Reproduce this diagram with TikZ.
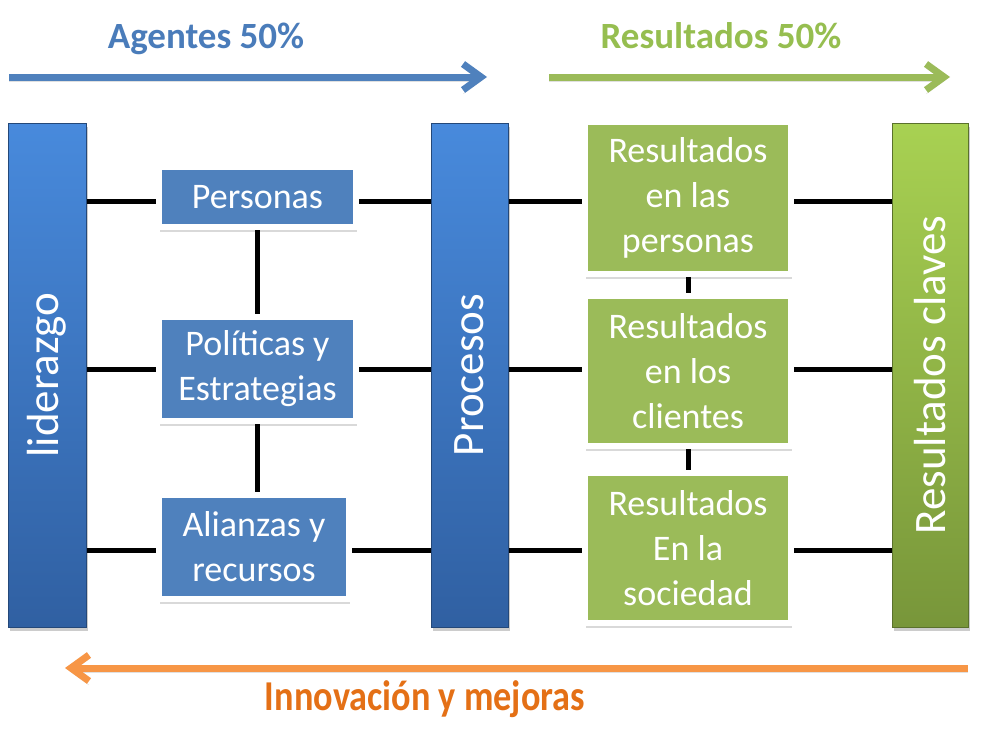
\documentclass[tikz,border=0pt]{standalone}
\usepackage{fontspec}
\setmainfont{Carlito}
\usetikzlibrary{arrows.meta,shadows,backgrounds}
\definecolor{boxblue}{RGB}{79,129,189}
\definecolor{boxgreen}{RGB}{155,187,89}
\definecolor{bartopblue}{RGB}{72,138,220}
\definecolor{barbotblue}{RGB}{48,96,162}
\definecolor{bartopgreen}{RGB}{168,209,82}
\definecolor{barbotgreen}{RGB}{120,150,58}
\definecolor{arrblue}{RGB}{79,129,189}
\definecolor{arrgreen}{RGB}{155,187,89}
\definecolor{arrorange}{RGB}{247,150,70}
\definecolor{titleblue}{RGB}{74,124,186}
\definecolor{titlegreen}{RGB}{150,190,80}
\definecolor{titleorange}{RGB}{228,112,22}
\begin{document}
\begin{tikzpicture}[x=1pt,y=-1pt,
  barnode/.style={rotate=90, inner sep=0pt, text=white,
    font=\fontsize{45}{54}\selectfont, minimum width=504pt,
    draw=#1!75!black, line width=0.8pt,
    drop shadow={opacity=0.2, fill=black, shadow xshift=2pt, shadow yshift=-4pt}},
  bluebar/.style={barnode=barbotblue, top color=bartopblue, bottom color=barbotblue},
  greenbar/.style={barnode=barbotgreen, top color=bartopgreen, bottom color=barbotgreen},
  boxnode/.style={draw=white, line width=6pt, text=white, align=center, inner sep=0pt,
    font=\fontsize{36}{45}\selectfont,
    drop shadow={opacity=0.15, fill=black, shadow xshift=1pt, shadow yshift=-5pt}},
  bluebox/.style={boxnode, fill=boxblue},
  greenbox/.style={boxnode, fill=boxgreen},
  conn/.style={draw=black, line width=5pt},
  bigarrow/.style={line width=7pt, -{Straight Barb[length=18pt,width=26pt]},
    preaction={draw=black, opacity=0.12, transform canvas={yshift=-4pt}}},
  titletext/.style={font=\fontsize{37}{44}\selectfont\bfseries, inner sep=0pt}
]
\useasboundingbox (0,0) rectangle (984,744);

% bars
\node[bluebar, minimum height=78pt] (lid) at (47,375) {liderazgo};
\node[bluebar, minimum height=77pt] (pro) at (469.5,375) {Procesos};
\node[greenbar, minimum height=76pt] (rc) at (930,375) {Resultados claves};

% boxes
\node[bluebox, minimum width=197pt, minimum height=60pt] (per) at (257.5,197) {Personas};
\node[bluebox, minimum width=197pt, minimum height=104pt] (pol) at (257.5,369) {Políticas y\\Estrategias};
\node[bluebox, minimum width=190pt, minimum height=104pt] (ali) at (254,547) {Alianzas y\\recursos};
\node[greenbox, minimum width=206pt, minimum height=152pt] (g1) at (688,198) {Resultados\\en las\\personas};
\node[greenbox, minimum width=206pt, minimum height=150pt] (g2) at (688,371) {Resultados\\en los\\clientes};
\node[greenbox, minimum width=206pt, minimum height=150pt] (g3) at (688,548) {Resultados\\En la\\sociedad};

% connectors
\coordinate (r1) at (0,201);
\coordinate (r2) at (0,369);
\coordinate (r3) at (0,550);
\begin{pgfonlayer}{background}
\fill[white] (0,0) rectangle (984,744);
\draw[conn] (lid.south |- r1) -- (rc.north |- r1);
\draw[conn] (lid.south |- r2) -- (rc.north |- r2);
\draw[conn] (lid.south |- r3) -- (rc.north |- r3);
\draw[conn] (per.south) -- (pol.north);
\draw[conn] (pol.south) -- (pol.south |- ali.north);
\draw[conn] (g1.south) -- (g2.north);
\draw[conn] (g2.south) -- (g3.north);
\end{pgfonlayer}

% arrows
\coordinate (ab1) at (9,77);
\coordinate (ab2) at (487,77);
\coordinate (ag1) at (549,77);
\coordinate (ag2) at (950,77);
\coordinate (ao1) at (968,668);
\coordinate (ao2) at (65,668);
\draw[bigarrow, arrblue] (ab1) -- (ab2);
\draw[bigarrow, arrgreen] (ag1) -- (ag2);
\draw[bigarrow, arrorange] (ao1) -- (ao2);

% titles
\node[titletext, text=titleblue, anchor=base] (tag) at (206,48) {Agentes 50\%};
\node[titletext, text=titlegreen, anchor=base] (tres) at (721,48) {Resultados 50\%};
\node[titletext, text=titleorange, anchor=base] (tinn) at (425,710) {\scalebox{0.98}[1.15]{Innovación y mejoras}};
\end{tikzpicture}
\end{document}
